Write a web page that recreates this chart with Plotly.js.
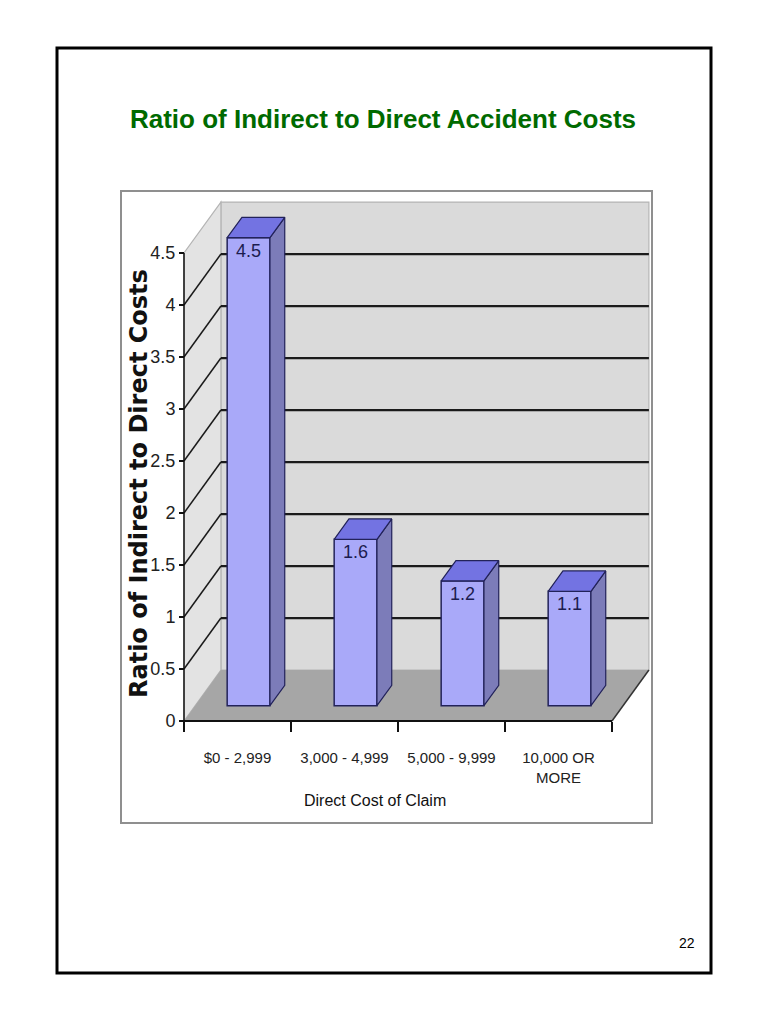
<!DOCTYPE html>
<html>
<head>
<meta charset="utf-8">
<script src="https://cdn.plot.ly/plotly-3.0.1.min.js"></script>
<style>html,body{margin:0;padding:0;background:#fff;}#chart{width:768px;height:1024px;}</style>
</head>
<body>
<div id="chart"></div>
<script>
// ---- data ----
const categories = ['$0 - 2,999', '3,000 - 4,999', '5,000 - 9,999', '10,000 OR<br>MORE'];
const ratios = [4.5, 1.6, 1.2, 1.1];
const yTickValues = [0, 0.5, 1, 1.5, 2, 2.5, 3, 3.5, 4, 4.5];
const chartTitle = 'Ratio of Indirect to Direct Accident Costs';
const yTitle = 'Ratio of Indirect to Direct Costs';
const xTitle = 'Direct Cost of Claim';
const pageNumber = '22';

// ---- 3D geometry (in axis units) ----
const DX = 0.345, DY = 0.49;          // depth of the floor / walls
const BAR_W = 0.4;
const FRONT = 0.3, DEPTH = 0.4;        // bar sits between 30% and 70% of depth
const base = FRONT * DY;
const bdx = DEPTH * DX, bdy = DEPTH * DY;
const xs = categories.map((c, i) => i);
const xLeft = -0.5, xRight = categories.length - 0.5;
const yTop = yTickValues[yTickValues.length - 1];

const SANS = 'Liberation Sans, Arial, sans-serif';
const outline = '#22225a';

// top and side faces of bars
const topX = [], topY = [], sideX = [], sideY = [];
xs.forEach((x, i) => {
  const v = ratios[i];
  const x0 = x - BAR_W / 2 + FRONT * DX, x1 = x0 + BAR_W;
  const yt = base + v;
  topX.push(x0, x1, x1 + bdx, x0 + bdx, x0, null);
  topY.push(yt, yt, yt + bdy, yt + bdy, yt, null);
  sideX.push(x1, x1 + bdx, x1 + bdx, x1, x1, null);
  sideY.push(base, base + bdy, yt + bdy, yt, base, null);
});

const traces = [
  {type: 'scatter', mode: 'lines', x: sideX, y: sideY, fill: 'toself',
   fillcolor: '#7c7cb9', line: {color: outline, width: 1.2}, hoverinfo: 'skip', showlegend: false},
  {type: 'scatter', mode: 'lines', x: topX, y: topY, fill: 'toself',
   fillcolor: '#7373e2', line: {color: outline, width: 1.2}, hoverinfo: 'skip', showlegend: false},
  {type: 'bar', x: xs, y: ratios, base: base, width: BAR_W, offset: -BAR_W / 2 + FRONT * DX,
   marker: {color: '#a9a9f9', line: {color: outline, width: 1.5}},
   text: ratios.map(v => v.toFixed(1)), textposition: 'inside', insidetextanchor: 'end',
   textangle: 0, constraintext: 'none',
   textfont: {family: SANS, size: 18, color: '#1c1c50'}, showlegend: false, hoverinfo: 'skip'},
  {type: 'scatter', x: [0], y: [0], xaxis: 'x2', mode: 'markers', marker: {opacity: 0}, hoverinfo: 'skip', showlegend: false}
];

// ---- shapes ----
const P = (px) => px / 768, Q = (py) => 1 - py / 1024;
const shapes = [
  // slide border
  {type: 'rect', xref: 'paper', yref: 'paper', x0: P(57), x1: P(711), y0: Q(973), y1: Q(48),
   line: {color: '#000', width: 3}, fillcolor: '#fff', layer: 'below'},
  // chart box
  {type: 'rect', xref: 'paper', yref: 'paper', x0: P(121), x1: P(652), y0: Q(823), y1: Q(191),
   line: {color: '#8f8f8f', width: 2}, fillcolor: '#fff', layer: 'below'},
  // back wall
  {type: 'rect', xref: 'x', yref: 'y', x0: xLeft + DX, x1: xRight + DX, y0: DY, y1: yTop + DY,
   line: {color: '#b4b4b4', width: 1.2}, fillcolor: '#dadada', layer: 'below'},
  // left wall
  {type: 'path', xref: 'x', yref: 'y', layer: 'below',
   path: `M ${xLeft},0 L ${xLeft},${yTop} L ${xLeft + DX},${yTop + DY} L ${xLeft + DX},${DY} Z`,
   line: {color: '#b4b4b4', width: 1.2}, fillcolor: '#e3e3e3'}
];
// gridlines on left wall and back wall
yTickValues.filter(v => v > 0 && v < yTop).forEach(v => {
  shapes.push({type: 'line', xref: 'x', yref: 'y', layer: 'below',
    x0: xLeft, y0: v, x1: xLeft + DX, y1: v + DY, line: {color: '#1a1a1a', width: 1.5}});
  shapes.push({type: 'line', xref: 'x', yref: 'y', layer: 'below',
    x0: xLeft + DX, y0: v + DY, x1: xRight + DX, y1: v + DY, line: {color: '#1a1a1a', width: 2.2}});
});
// floor
shapes.push({type: 'path', xref: 'x', yref: 'y', layer: 'below',
  path: `M ${xLeft},0 L ${xRight},0 L ${xRight + DX},${DY} L ${xLeft + DX},${DY} Z`,
  line: {width: 0}, fillcolor: '#a6a6a6'});
// floor right edge
shapes.push({type: 'line', xref: 'x', yref: 'y', layer: 'below',
  x0: xRight, y0: 0, x1: xRight + DX, y1: DY, line: {color: '#333', width: 1.5}});
// axis lines
shapes.push({type: 'line', xref: 'x', yref: 'y', layer: 'above',
  x0: xLeft, y0: 0, x1: xRight, y1: 0, line: {color: '#111', width: 2}});
shapes.push({type: 'line', xref: 'x', yref: 'y', layer: 'above',
  x0: xLeft, y0: 0, x1: xLeft, y1: yTop, line: {color: '#111', width: 1.5}});

const xRange = [-0.55, 3.9], yRange = [-0.05, 5.05];

const layout = {
  width: 768, height: 1024,
  margin: {l: 0, r: 0, t: 0, b: 0},
  paper_bgcolor: '#fff', plot_bgcolor: 'rgba(0,0,0,0)',
  title: {text: chartTitle, x: P(383), y: Q(119), xanchor: 'center', yanchor: 'middle',
    font: {family: SANS, size: 26, color: '#006a00', weight: 'bold'}},
  showlegend: false,
  bargap: 0,
  xaxis: {domain: [P(178.65), P(654.8)], range: xRange, anchor: 'free', position: Q(721),
    tickvals: xs, ticktext: categories, tickangle: 0, ticks: 'outside', ticklen: 23, tickcolor: 'rgba(0,0,0,0)',
    tickfont: {family: SANS, size: 15, color: '#222'},
    showgrid: false, zeroline: false, showline: false, fixedrange: true},
  xaxis2: {overlaying: 'x', range: xRange, anchor: 'free', position: Q(721), side: 'bottom',
    tickvals: [-0.5, 0.5, 1.5, 2.5, 3.5], ticks: 'outside', ticklen: 10, tickwidth: 1.5, tickcolor: '#111',
    showticklabels: false, showgrid: false, zeroline: false, showline: false, fixedrange: true},
  yaxis: {domain: [Q(726.2), Q(195.8)], range: yRange, anchor: 'free', position: P(184),
    tickvals: yTickValues, ticks: 'outside', ticklen: 5, tickwidth: 1.5, tickcolor: '#111',
    tickfont: {family: SANS, size: 18, color: '#222'},
    showgrid: false, zeroline: false, showline: false, fixedrange: true},
  shapes: shapes,
  annotations: [
    {text: yTitle, xref: 'paper', yref: 'paper', x: P(139), y: Q(484), textangle: -90,
     showarrow: false, xanchor: 'center', yanchor: 'middle',
     font: {family: 'DejaVu Sans, sans-serif', size: 24, color: '#111', weight: 'bold'}},
    {text: xTitle, xref: 'paper', yref: 'paper', x: P(375), y: Q(800),
     showarrow: false, xanchor: 'center', yanchor: 'middle',
     font: {family: SANS, size: 16, color: '#111'}},
    {text: pageNumber, xref: 'paper', yref: 'paper', x: P(687), y: Q(943),
     showarrow: false, xanchor: 'center', yanchor: 'middle',
     font: {family: SANS, size: 14, color: '#000'}}
  ]
};

Plotly.newPlot('chart', traces, layout, {displayModeBar: false, staticPlot: true});
</script>
</body>
</html>
